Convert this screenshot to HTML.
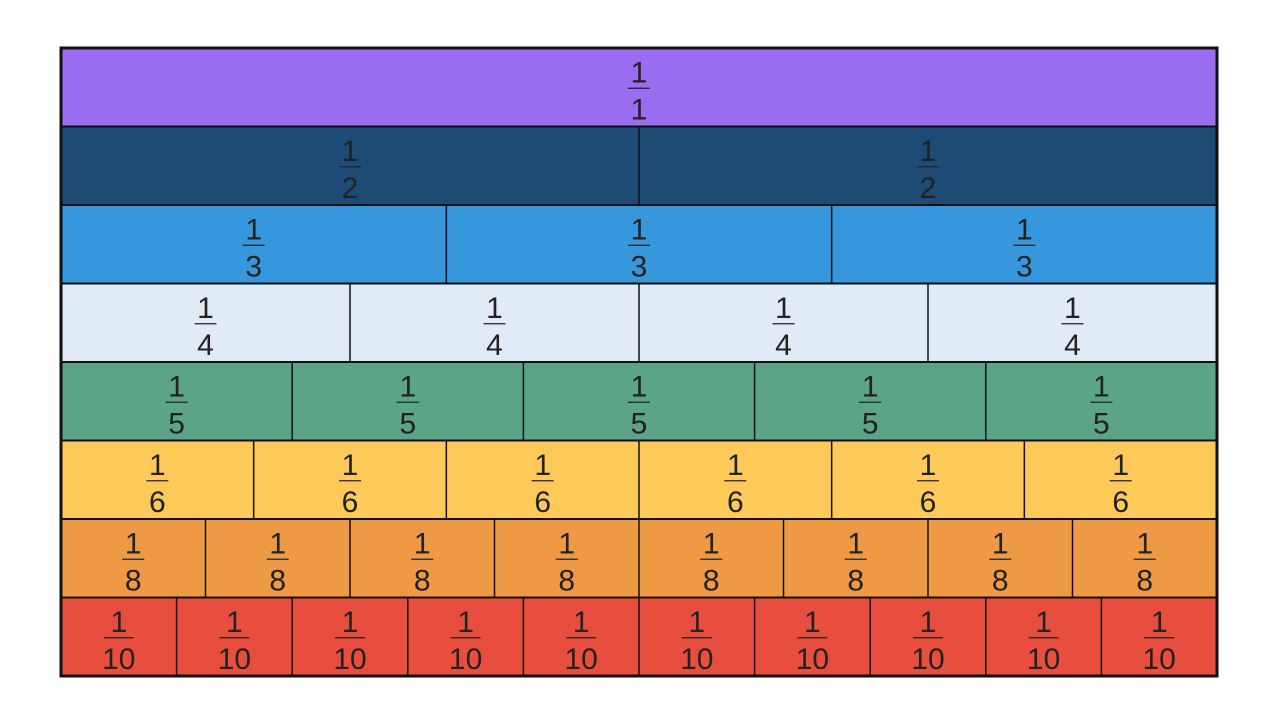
<!DOCTYPE html>
<html><head><meta charset="utf-8"><style>
html,body{margin:0;padding:0;background:#fff;width:1280px;height:720px;overflow:hidden}
svg text{font-family:"Liberation Sans",sans-serif;fill:#222}
</style></head><body>
<svg id="chart" width="1280" height="720" xmlns="http://www.w3.org/2000/svg"></svg>
<script>
const denominators = [1, 2, 3, 4, 5, 6, 8, 10];
const rowColors = ["#9a6cf0", "#1e4b75", "#3697dc", "#e1ebf5", "#5ba586", "#fdca5a", "#ee9a44", "#e84e3d"];
const numerator = 1;

const svg = document.getElementById('chart');
const NS = "http://www.w3.org/2000/svg";
const L = 61, R = 1217, T = 48, B = 676;
const rowH = (B - T) / denominators.length;
const xScale = f => L + f * (R - L);
const yRow = i => T + i * rowH;

function el(tag, attrs) {
  const e = document.createElementNS(NS, tag);
  for (const k in attrs) e.setAttribute(k, attrs[k]);
  svg.appendChild(e);
  return e;
}

denominators.forEach((d, i) => {
  const y = yRow(i);
  const r = el('rect', {x: L, y: y, width: R - L, height: rowH, fill: rowColors[i]});
  
  
  for (let k = 0; k < d; k++) {
    const x0 = xScale(k / d), x1 = xScale((k + 1) / d);
    const cx = (x0 + x1) / 2, cy = y + rowH / 2;
    if (k > 0) {
      const ln = el('line', {x1: x0, x2: x0, y1: y, y2: y + rowH, stroke: '#111', 'stroke-width': 1.5});
      
      
    }
    const n = el('text', {x: cx, y: cy - 5, 'text-anchor': 'middle', 'font-size': 30});
    n.textContent = numerator;
    
    
    const bw = d >= 10 ? 30 : 22;
    const bar = el('line', {x1: cx - bw / 2, x2: cx + bw / 2, y1: cy + 1, y2: cy + 1, stroke: '#222', 'stroke-width': 1.2});
    
    
    const dn = el('text', {x: cx, y: cy + 32, 'text-anchor': 'middle', 'font-size': 30});
    dn.textContent = d;
    
    
  }
  if (i > 0) {
    const sep = el('line', {x1: L, x2: R, y1: y, y2: y, stroke: '#111', 'stroke-width': 2});
    
    
  }
});
const border = el('rect', {x: L, y: T, width: R - L, height: B - T, fill: 'none', stroke: '#111', 'stroke-width': 3});


</script>
</body></html>
